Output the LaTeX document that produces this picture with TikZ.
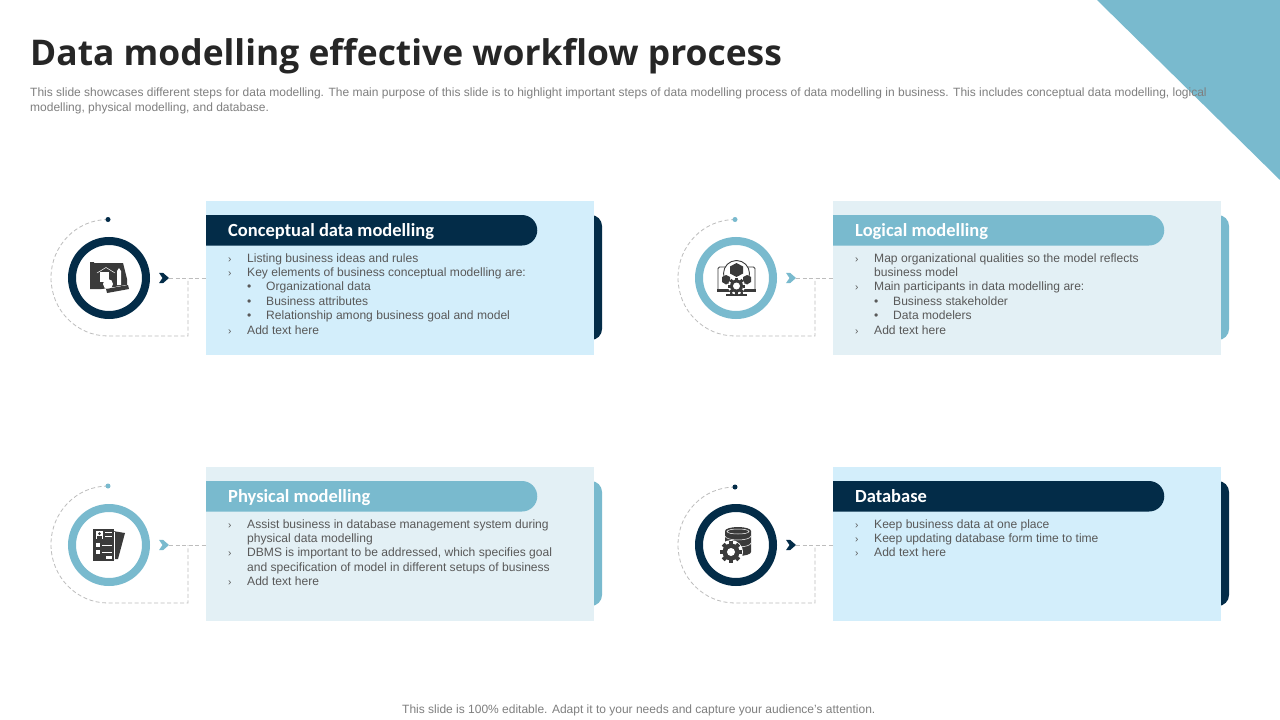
\documentclass[tikz,border=0pt]{standalone}
\usepackage{fontspec}
\setmainfont{Liberation Sans}
\newfontfamily\headfont{Carlito}
\newfontfamily\titlefont{Open Sans}
\usetikzlibrary{calc}
\definecolor{navy}{HTML}{032C48}
\definecolor{teal}{HTML}{79BACE}
\definecolor{lightblue}{HTML}{D3EEFB}
\definecolor{paleblue}{HTML}{E3F0F5}
\definecolor{bodygray}{HTML}{595959}
\definecolor{notegray}{HTML}{7F7F7F}
\definecolor{icondark}{HTML}{3A3A3A}
\definecolor{dashgray}{HTML}{BDBDBD}
\tikzset{x=1pt,y=-1pt,
 bodytext/.style={anchor=base west,inner sep=0pt,text=bodygray,font=\fontsize{12.08}{14}\selectfont},
 notetext/.style={anchor=base west,inner sep=0pt,text=notegray,font=\fontsize{12}{14}\selectfont},
 headtext/.style={anchor=base west,inner sep=0pt,text=white,font=\headfont\bfseries\fontsize{18.5}{20}\selectfont},
 marktext/.style={anchor=base west,inner sep=0pt,text=bodygray,font=\fontsize{10}{12}\selectfont},
 dashline/.style={draw=dashgray,dash pattern=on 4pt off 2.5pt,line width=0.8pt},
}
% #1 name, #2 x, #3 y (card top-left), #4 main colour, #5 card fill, #6 heading
\newcommand{\cardshape}[6]{%
 \fill[#4,rounded corners=11pt] (#2+370,#3+14) rectangle (#2+396,#3+139);
 \node[draw=none,fill=#5,anchor=north west,minimum width=388pt,minimum height=154pt,inner sep=0pt] (#1card) at (#2,#3) {};
 \fill[#4] (#2,#3+14) -- (#2+316,#3+14) arc[start angle=90,delta angle=-180,radius=15.25pt] -- (#2,#3+44.5) -- cycle;
 \node[headtext] (#1head) at (#2+22,#3+35) {#6};
}
% #1 name, #2 centre x, #3 centre y, #4 colour, #5 dot y, #6 card name
\newcommand{\stepmark}[6]{%
 \coordinate (#1top) at (#2-1,#5);
 \coordinate (#1bot) at (#2,#3+58);
 \coordinate (#1corner) at (#2+79,#3+58);
 \coordinate (#1knee) at (#2+79,#3);
 \coordinate (#1start) at (#2+60,#3);
 \pgfmathsetmacro{\yrad}{(#3+58-#5)/2}
 \draw[dashline] (#1top) arc[start angle=90,delta angle=180,x radius=57pt,y radius=\yrad pt] -- (#1corner) -- (#1knee);
 \draw[dashline] (#1start) -- (#1knee) -- (#6card.west |- #1knee);
 \node[circle,draw=#4,line width=8pt,fill=white,minimum size=74pt,inner sep=0pt] (#1ring) at (#2,#3) {};
 \node[circle,fill=#4,minimum size=5pt,inner sep=0pt] (#1dot) at (#1top) {};
 \fill[#4] (#2+50,#3-5.2) -- (#2+54,#3-5.2) -- (#2+60,#3) -- (#2+54,#3+5.2) -- (#2+50,#3+5.2) -- (#2+53.5,#3) -- cycle;
}
\begin{document}
\begin{tikzpicture}
\useasboundingbox (0,0) rectangle (1280,720);
\fill[white] (0,0) rectangle (1280,720);
\fill[teal] (1097,0) -- (1280,0) -- (1280,180) -- cycle;
\node[anchor=base west,inner sep=0pt,text=black!85,font=\titlefont\bfseries\fontsize{35.4}{40}\selectfont] (title) at (30,65) {Data modelling effective workflow process};
\node[notetext] (descA) at (30,96.5) {This slide showcases different steps for data modelling. The main purpose of this slide is to highlight important steps of data modelling process of data modelling in business. This includes conceptual data modelling, logical};
\node[notetext] (descB) at (30,111) {modelling, physical modelling, and database.};
\node[notetext] (foot) at (402,713) {This slide is 100\% editable. Adapt it to your needs and capture your audience's attention.};

\cardshape{a}{206}{201}{navy}{lightblue}{Conceptual data modelling}
\cardshape{b}{833}{201}{teal}{paleblue}{Logical modelling}
\cardshape{c}{206}{467}{teal}{paleblue}{Physical modelling}
\cardshape{d}{833}{467}{navy}{lightblue}{Database}

\stepmark{sa}{109}{278}{navy}{219.5}{a}
\stepmark{sb}{736}{278}{teal}{219.5}{b}
\stepmark{sc}{109}{545}{teal}{486}{c}
\stepmark{sd}{736}{545}{navy}{487}{d}

% card a text
\node[marktext] (am1) at (228,262) {›};
\node[bodytext] (at1) at (247,262) {Listing business ideas and rules};
\node[marktext] (am2) at (228,276) {›};
\node[bodytext] (at2) at (247,276) {Key elements of business conceptual modelling are:};
\node[bodytext] (am3) at (247,290) {•};
\node[bodytext] (at3) at (266,290) {Organizational data};
\node[bodytext] (am4) at (247,305) {•};
\node[bodytext] (at4) at (266,305) {Business attributes};
\node[bodytext] (am5) at (247,319) {•};
\node[bodytext] (at5) at (266,319) {Relationship among business goal and model};
\node[marktext] (am6) at (228,334) {›};
\node[bodytext] (at6) at (247,334) {Add text here};
% card b text
\node[marktext] (bm1) at (855,262) {›};
\node[bodytext] (bt1) at (874,262) {Map organizational qualities so the model reflects};
\node[bodytext] (bt1b) at (874,276) {business model};
\node[marktext] (bm2) at (855,290) {›};
\node[bodytext] (bt2) at (874,290) {Main participants in data modelling are:};
\node[bodytext] (bm3) at (874,305) {•};
\node[bodytext] (bt3) at (893,305) {Business stakeholder};
\node[bodytext] (bm4) at (874,319) {•};
\node[bodytext] (bt4) at (893,319) {Data modelers};
\node[marktext] (bm5) at (855,334) {›};
\node[bodytext] (bt5) at (874,334) {Add text here};
% card c text
\node[marktext] (cm1) at (228,528) {›};
\node[bodytext] (ct1) at (247,528) {Assist business in database management system during};
\node[bodytext] (ct1b) at (247,542) {physical data modelling};
\node[marktext] (cm2) at (228,556) {›};
\node[bodytext] (ct2) at (247,556) {DBMS is important to be addressed, which specifies goal};
\node[bodytext] (ct2b) at (247,571) {and specification of model in different setups of business};
\node[marktext] (cm3) at (228,585) {›};
\node[bodytext] (ct3) at (247,585) {Add text here};
% card d text
\node[marktext] (dm1) at (855,528) {›};
\node[bodytext] (dt1) at (874,528) {Keep business data at one place};
\node[marktext] (dm2) at (855,542) {›};
\node[bodytext] (dt2) at (874,542) {Keep updating database form time to time};
\node[marktext] (dm3) at (855,556) {›};
\node[bodytext] (dt3) at (874,556) {Add text here};

% icon a : blueprint
\begin{scope}[shift={(90,262)}]
 \fill[icondark] (0,0) -- (4,0) -- (4,1) -- (33,1) -- (37,17) -- (37,23) -- (12,27) -- (0,27) -- cycle;
 \draw[white,line width=0.5pt] (7,11) -- (16,5.5) -- (25,11);
 \fill[white] (10,10) rectangle (19,20);
 \fill[white] (18,22) circle (5pt);
 \fill[white] (29,6) -- (31,9) -- (31,23) -- (27,23) -- (27,9) -- cycle;
 \fill[white] (11,27.5) -- (37,23) -- (38,24) -- (15,29) -- cycle;
 \fill[icondark] (16,27) -- (38,23) -- (39,27) -- (17,31) -- cycle;
\end{scope}
% icon b : monitor with cubes and gear
\begin{scope}[shift={(717,260)}]
 \draw[icondark,line width=0.9pt,rounded corners=1.5pt] (1,29) -- (1,7) -- (38,7) -- (38,29);
 \fill[white,draw=icondark,line width=0.9pt] (19.5,13.5) circle (13pt);
 \fill[icondark] (19.5,3) -- (26,6.5) -- (26,13.5) -- (19.5,17) -- (13,13.5) -- (13,6.5) -- cycle;
 \fill[icondark] (9,15) -- (13,17) -- (13,22) -- (9,24.5) -- (5,22) -- (5,17) -- cycle;
 \fill[icondark] (30,15) -- (34,17) -- (34,22) -- (30,24.5) -- (26,22) -- (26,17) -- cycle;
 \fill[icondark] (0,29) rectangle (39,31.5);
 \fill[icondark] (13,31.5) rectangle (26,33.5);
 \fill[icondark] (9,33.5) rectangle (30,36);
 \fill[white] (19.5,26) circle (8.5pt);
 \foreach \a in {0,45,...,315}{\fill[icondark,rotate around={\a:(19.5,26)}] (18,17.5) rectangle (21,20);}
 \fill[icondark] (19.5,26) circle (6.5pt);
 \fill[white] (19.5,26) circle (3.5pt);
\end{scope}
% icon c : documents
\begin{scope}[shift={(93,529)}]
 \fill[icondark] (20,2) -- (32,4) -- (25,30) -- (20,30) -- cycle;
 \fill[icondark] (0,0) rectangle (21,32);
 \fill[white] (21,3) -- (21.7,3) -- (21.7,30) -- (21,30) -- cycle;
 \fill[white] (3,2) rectangle (10,10);
 \fill[icondark] (6.5,4.5) circle (1.5pt);
 \fill[icondark] (4,9.5) rectangle (9,7);
 \fill[white] (12,3) rectangle (19,4);
 \fill[white] (12,7) rectangle (19,8);
 \fill[white] (3,14) rectangle (7,18);
 \fill[white] (9,15.5) rectangle (19,16.5);
 \fill[white] (3,21) rectangle (7,25);
 \fill[white] (9,22.5) rectangle (19,23.5);
 \fill[white] (13,27) rectangle (19,30);
\end{scope}
% icon d : database with gear
\begin{scope}[shift={(722,527)}]
 \fill[icondark] (3,4) -- (29,4) -- (29,25) arc[start angle=0,end angle=-180,x radius=13pt,y radius=4pt] -- cycle;
 \fill[icondark] (16,4) ellipse (13pt and 4pt);
 \draw[white,line width=0.5pt] (16,4.5) ellipse (11pt and 2.5pt);
 \draw[white,line width=0.5pt] (3,9) arc[start angle=180,end angle=360,x radius=13pt,y radius=4pt];
 \draw[white,line width=0.5pt] (3,16) arc[start angle=180,end angle=360,x radius=13pt,y radius=4pt];
 \fill[white] (9,25) circle (12pt);
 \foreach \a in {0,45,...,315}{\fill[icondark,rotate around={\a:(9,25)}] (7,14) rectangle (11,18);}
 \fill[icondark] (9,25) circle (8.5pt);
 \fill[white] (9,25) circle (4pt);
\end{scope}
\end{tikzpicture}
\end{document}
